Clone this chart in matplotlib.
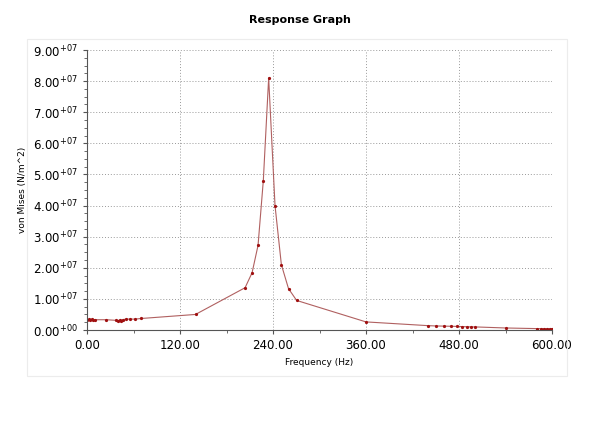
import matplotlib
matplotlib.use("Agg")
import matplotlib.pyplot as plt
from matplotlib.patches import Rectangle
from matplotlib.ticker import FuncFormatter, MultipleLocator

freq = [0.5, 2, 4, 6, 8, 10, 25, 38, 40, 42, 44, 46, 50, 56, 62, 70,
        140, 204, 213, 220.7, 227.5, 234.4, 242.6, 250.8, 260, 270.5,
        360, 440, 450, 460, 470, 478, 484, 490, 496, 500, 540, 580, 586,
        590, 594, 598, 600]
stress = [3.3e6, 3.4e6, 3.3e6, 3.4e6, 3.3e6, 3.3e6, 3.3e6, 3.1e6, 3.0e6,
          3.2e6, 3.0e6, 3.3e6, 3.5e6, 3.5e6, 3.5e6, 3.7e6,
          5.0e6, 1.36e7, 1.84e7, 2.72e7, 4.8e7, 8.1e7, 4.0e7, 2.1e7, 1.33e7,
          9.5e6, 2.6e6, 1.4e6, 1.3e6, 1.25e6, 1.2e6, 1.15e6, 1.1e6, 1.05e6,
          1.0e6, 1.0e6, 6.5e5, 4.5e5, 4.3e5, 4.2e5, 4.1e5, 4.0e5, 4.0e5]

fig = plt.figure(figsize=(6.0, 4.37), dpi=100)
fig.patches.append(Rectangle((0.045, 0.14), 0.9, 0.77, transform=fig.transFigure,
                             fill=False, edgecolor="#ececec", lw=0.8))
ax = fig.add_axes([87 / 600, 1 - 330 / 437, 465 / 600, 280 / 437])
ax.plot(freq, stress, color="#b06060", lw=0.8, marker="o", ms=1.3,
        mfc="#a01010", mec="#a01010")
ax.set_xlim(0, 600)
ax.set_ylim(0, 9e7)
ax.xaxis.set_major_locator(MultipleLocator(120))
ax.xaxis.set_minor_locator(MultipleLocator(60))
ax.yaxis.set_major_locator(MultipleLocator(1e7))
ax.yaxis.set_minor_locator(MultipleLocator(2.5e6))
ax.xaxis.set_major_formatter(FuncFormatter(lambda v, p: f"{v:.2f}"))


def yfmt(v, p):
    exp = "+00" if v == 0 else "+07"
    return rf"$\mathregular{{{v / 1e7:.2f}}}^{{\mathregular{{{exp}}}}}$"


ax.yaxis.set_major_formatter(FuncFormatter(yfmt))
ax.grid(True, which="major", ls=(0, (1, 2)), color="#999999", lw=0.7)
for s in ("top", "right"):
    ax.spines[s].set_visible(False)
for s in ("left", "bottom"):
    ax.spines[s].set_color("#555555")
ax.tick_params(labelsize=8.5, length=3, color="#555555")
ax.tick_params(which="minor", length=2, color="#555555")
ax.set_xlabel("Frequency (Hz)", fontsize=6.5)
ax.set_ylabel("von Mises (N/m^2)", fontsize=6.5)
fig.text(0.5, 0.955, "Response Graph", ha="center", va="center",
         fontsize=8, fontweight="bold")
fig.savefig("out.png", dpi=100)
